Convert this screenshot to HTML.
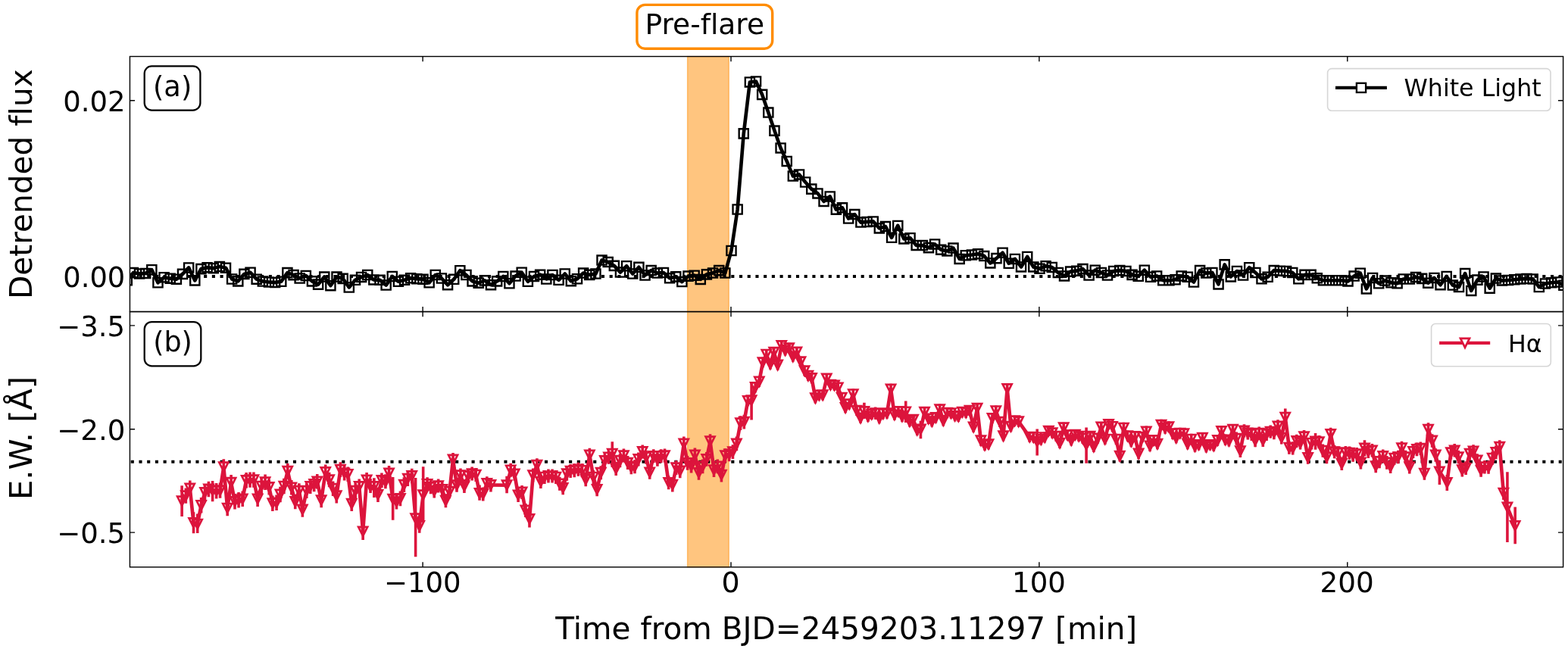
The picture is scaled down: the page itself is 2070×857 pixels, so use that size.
<!DOCTYPE html>
<html lang="en"><head><meta charset="utf-8"><title>Flare light curves: White Light and Hα</title>
<style>html,body{margin:0;padding:0;background:#fff}body{width:2070px;height:857px;overflow:hidden}svg{display:block}text{font-family:'DejaVu Sans','Liberation Sans',sans-serif;fill:#000;font-variant-ligatures:none;font-feature-settings:"liga" 0,"clig" 0;white-space:pre}</style>
</head><body>
<svg width="2070" height="857" viewBox="0 0 2070 857">
<rect width="2070" height="857" fill="#fff"/>
<defs><clipPath id="ca"><rect x="171.45" y="74.55" width="1892.15" height="337"/></clipPath>
<clipPath id="cb"><rect x="171.45" y="411.55" width="1892.15" height="337.3"/></clipPath></defs>
<rect x="907.6" y="74.55" width="54.6" height="674.3" fill="#FF8C00" fill-opacity="0.5" stroke="#FF8C00" stroke-opacity="0.5" stroke-width="1.4"/>
<line x1="171.45" y1="364.9" x2="2063.6" y2="364.9" stroke="#000" stroke-width="4" stroke-dasharray="4.1 6.61" stroke-dashoffset="9.42" clip-path="url(#ca)"/>
<line x1="171.45" y1="609.7" x2="2063.6" y2="609.7" stroke="#000" stroke-width="4" stroke-dasharray="4.1 6.61" stroke-dashoffset="9.42" clip-path="url(#cb)"/>
<g clip-path="url(#ca)">
<path d="M161.66 364.19h12.2v12.2h-12.2zM169.8 354.04h12.2v12.2h-12.2zM177.94 355.3h12.2v12.2h-12.2zM186.08 354.82h12.2v12.2h-12.2zM194.22 350.18h12.2v12.2h-12.2zM202.36 367.19h12.2v12.2h-12.2zM210.5 360.13h12.2v12.2h-12.2zM218.64 361.58h12.2v12.2h-12.2zM226.78 362.55h12.2v12.2h-12.2zM234.92 355.78h12.2v12.2h-12.2zM243.06 347.38h12.2v12.2h-12.2zM251.2 364.29h12.2v12.2h-12.2zM259.34 349.02h12.2v12.2h-12.2zM267.48 347.09h12.2v12.2h-12.2zM275.62 348.05h12.2v12.2h-12.2zM283.76 345.93h12.2v12.2h-12.2zM291.9 347.57h12.2v12.2h-12.2zM300.04 362.35h12.2v12.2h-12.2zM308.18 365.25h12.2v12.2h-12.2zM316.32 355.78h12.2v12.2h-12.2zM324.46 353.66h12.2v12.2h-12.2zM332.6 362.55h12.2v12.2h-12.2zM340.74 365.45h12.2v12.2h-12.2zM348.88 366.41h12.2v12.2h-12.2zM357.02 366.9h12.2v12.2h-12.2zM365.16 365.64h12.2v12.2h-12.2zM373.3 354.04h12.2v12.2h-12.2zM381.44 357.04h12.2v12.2h-12.2zM389.58 361.39h12.2v12.2h-12.2zM397.72 357.91h12.2v12.2h-12.2zM405.86 365.25h12.2v12.2h-12.2zM414 369.5h12.2v12.2h-12.2zM422.14 359.46h12.2v12.2h-12.2zM430.28 371.05h12.2v12.2h-12.2zM438.42 359.46h12.2v12.2h-12.2zM446.56 361.77h12.2v12.2h-12.2zM454.7 373.37h12.2v12.2h-12.2zM462.84 363.71h12.2v12.2h-12.2zM470.98 359.84h12.2v12.2h-12.2zM479.12 356.94h12.2v12.2h-12.2zM487.26 363.32h12.2v12.2h-12.2zM495.4 363.71h12.2v12.2h-12.2zM503.54 370.47h12.2v12.2h-12.2zM511.68 358.88h12.2v12.2h-12.2zM519.82 365.64h12.2v12.2h-12.2zM527.96 363.71h12.2v12.2h-12.2zM536.1 361.1h12.2v12.2h-12.2zM544.24 362.06h12.2v12.2h-12.2zM552.38 362.55h12.2v12.2h-12.2zM560.52 367.19h12.2v12.2h-12.2zM568.66 356.94h12.2v12.2h-12.2zM576.8 361.39h12.2v12.2h-12.2zM584.94 370.08h12.2v12.2h-12.2zM593.08 362.74h12.2v12.2h-12.2zM601.22 351.15h12.2v12.2h-12.2zM609.36 356.94h12.2v12.2h-12.2zM617.5 365.25h12.2v12.2h-12.2zM625.64 367.57h12.2v12.2h-12.2zM633.78 364.29h12.2v12.2h-12.2zM641.92 370.08h12.2v12.2h-12.2zM650.06 365.25h12.2v12.2h-12.2zM658.2 358.88h12.2v12.2h-12.2zM666.34 368.15h12.2v12.2h-12.2zM674.48 358.49h12.2v12.2h-12.2zM682.62 353.66h12.2v12.2h-12.2zM690.76 365.64h12.2v12.2h-12.2zM698.9 358.88h12.2v12.2h-12.2zM707.04 356.56h12.2v12.2h-12.2zM715.18 362.35h12.2v12.2h-12.2zM723.32 356.94h12.2v12.2h-12.2zM731.46 363.71h12.2v12.2h-12.2zM739.6 355.42h12.2v12.2h-12.2zM747.74 365.08h12.2v12.2h-12.2zM755.88 362.19h12.2v12.2h-12.2zM764.02 354.46h12.2v12.2h-12.2zM772.16 356.77h12.2v12.2h-12.2zM780.3 355.42h12.2v12.2h-12.2zM788.44 337.45h12.2v12.2h-12.2zM796.58 339.96h12.2v12.2h-12.2zM804.72 344.79h12.2v12.2h-12.2zM812.86 353.49h12.2v12.2h-12.2zM821 345.18h12.2v12.2h-12.2zM829.14 355.42h12.2v12.2h-12.2zM837.28 346.73h12.2v12.2h-12.2zM845.42 357.35h12.2v12.2h-12.2zM853.56 350.98h12.2v12.2h-12.2zM861.7 354.46h12.2v12.2h-12.2zM869.84 353.88h12.2v12.2h-12.2zM877.98 361.22h12.2v12.2h-12.2zM886.12 359.29h12.2v12.2h-12.2zM894.26 365.98h12.2v12.2h-12.2zM902.4 358.51h12.2v12.2h-12.2zM910.54 357.58h12.2v12.2h-12.2zM918.68 362.81h12.2v12.2h-12.2zM926.82 356.27h12.2v12.2h-12.2zM934.96 354.4h12.2v12.2h-12.2zM943.1 351.04h12.2v12.2h-12.2zM951.24 354.4h12.2v12.2h-12.2zM959.38 324.9h12.2v12.2h-12.2zM967.52 270.4h12.2v12.2h-12.2zM975.66 170.25h12.2v12.2h-12.2zM983.8 102.34h12.2v12.2h-12.2zM991.94 101.4h12.2v12.2h-12.2zM1000.08 118.79h12.2v12.2h-12.2zM1008.22 142.48h12.2v12.2h-12.2zM1016.36 166.51h12.2v12.2h-12.2zM1024.5 189.34h12.2v12.2h-12.2zM1032.64 206.84h12.2v12.2h-12.2zM1040.78 226.44h12.2v12.2h-12.2zM1048.92 224.34h12.2v12.2h-12.2zM1057.06 234.4h12.2v12.2h-12.2zM1065.2 243.5h12.2v12.2h-12.2zM1073.34 249.34h12.2v12.2h-12.2zM1081.48 259.84h12.2v12.2h-12.2zM1089.62 253.3h12.2v12.2h-12.2zM1097.76 270.57h12.2v12.2h-12.2zM1105.9 268.24h12.2v12.2h-12.2zM1114.04 282.48h12.2v12.2h-12.2zM1122.18 276.99h12.2v12.2h-12.2zM1130.32 287.49h12.2v12.2h-12.2zM1138.46 286.91h12.2v12.2h-12.2zM1146.6 286.33h12.2v12.2h-12.2zM1154.74 295.31h12.2v12.2h-12.2zM1162.88 292.98h12.2v12.2h-12.2zM1171.02 307.68h12.2v12.2h-12.2zM1179.16 291.81h12.2v12.2h-12.2zM1187.3 309.31h12.2v12.2h-12.2zM1195.44 308.15h12.2v12.2h-12.2zM1203.58 317.83h12.2v12.2h-12.2zM1211.72 317.97h12.2v12.2h-12.2zM1219.86 321.01h12.2v12.2h-12.2zM1228 316.34h12.2v12.2h-12.2zM1236.14 323.57h12.2v12.2h-12.2zM1244.28 325.32h12.2v12.2h-12.2zM1252.42 321.47h12.2v12.2h-12.2zM1260.56 335.83h12.2v12.2h-12.2zM1268.7 331.16h12.2v12.2h-12.2zM1276.84 330.34h12.2v12.2h-12.2zM1284.98 329.17h12.2v12.2h-12.2zM1293.12 331.97h12.2v12.2h-12.2zM1301.26 341.31h12.2v12.2h-12.2zM1309.4 335.01h12.2v12.2h-12.2zM1317.54 327.66h12.2v12.2h-12.2zM1325.68 341.66h12.2v12.2h-12.2zM1333.82 335.83h12.2v12.2h-12.2zM1341.96 346.33h12.2v12.2h-12.2zM1350.1 332.91h12.2v12.2h-12.2zM1358.24 346.33h12.2v12.2h-12.2zM1366.38 348.66h12.2v12.2h-12.2zM1374.52 345.16h12.2v12.2h-12.2zM1382.66 346.91h12.2v12.2h-12.2zM1390.8 353.91h12.2v12.2h-12.2zM1398.94 358.32h12.2v12.2h-12.2zM1407.08 352.52h12.2v12.2h-12.2zM1415.22 351.56h12.2v12.2h-12.2zM1423.36 349.04h12.2v12.2h-12.2zM1431.5 357.35h12.2v12.2h-12.2zM1439.64 350.59h12.2v12.2h-12.2zM1447.78 353.88h12.2v12.2h-12.2zM1455.92 357.35h12.2v12.2h-12.2zM1464.06 351.94h12.2v12.2h-12.2zM1472.2 350.98h12.2v12.2h-12.2zM1480.34 351.94h12.2v12.2h-12.2zM1488.48 356.77h12.2v12.2h-12.2zM1496.62 358.71h12.2v12.2h-12.2zM1504.76 350.59h12.2v12.2h-12.2zM1512.9 359.67h12.2v12.2h-12.2zM1521.04 358.32h12.2v12.2h-12.2zM1529.18 364.12h12.2v12.2h-12.2zM1537.32 364.12h12.2v12.2h-12.2zM1545.46 363.15h12.2v12.2h-12.2zM1553.6 358.32h12.2v12.2h-12.2zM1561.74 359.67h12.2v12.2h-12.2zM1569.88 366.44h12.2v12.2h-12.2zM1578.02 350.98h12.2v12.2h-12.2zM1586.16 354.46h12.2v12.2h-12.2zM1594.3 353.88h12.2v12.2h-12.2zM1602.44 369.33h12.2v12.2h-12.2zM1610.58 343.25h12.2v12.2h-12.2zM1618.72 359.29h12.2v12.2h-12.2zM1626.86 351.94h12.2v12.2h-12.2zM1635 357.35h12.2v12.2h-12.2zM1643.14 347.11h12.2v12.2h-12.2zM1651.28 353.88h12.2v12.2h-12.2zM1659.42 362.19h12.2v12.2h-12.2zM1667.56 359.67h12.2v12.2h-12.2zM1675.7 350.98h12.2v12.2h-12.2zM1683.84 351.56h12.2v12.2h-12.2zM1691.98 351.94h12.2v12.2h-12.2zM1700.12 353.88h12.2v12.2h-12.2zM1708.26 362.19h12.2v12.2h-12.2zM1716.4 356.77h12.2v12.2h-12.2zM1724.54 356.77h12.2v12.2h-12.2zM1732.68 361.22h12.2v12.2h-12.2zM1740.82 364.12h12.2v12.2h-12.2zM1748.96 364.12h12.2v12.2h-12.2zM1757.1 364.12h12.2v12.2h-12.2zM1765.24 364.12h12.2v12.2h-12.2zM1773.38 365.25h12.2v12.2h-12.2zM1781.52 358.49h12.2v12.2h-12.2zM1789.66 354.62h12.2v12.2h-12.2zM1797.8 375.3h12.2v12.2h-12.2zM1805.94 360.81h12.2v12.2h-12.2zM1814.08 368.15h12.2v12.2h-12.2zM1822.22 364.48h12.2v12.2h-12.2zM1830.36 367.19h12.2v12.2h-12.2zM1838.5 368.15h12.2v12.2h-12.2zM1846.64 362.35h12.2v12.2h-12.2zM1854.78 362.35h12.2v12.2h-12.2zM1862.92 359.84h12.2v12.2h-12.2zM1871.06 361.77h12.2v12.2h-12.2zM1879.2 367.57h12.2v12.2h-12.2zM1887.34 360.81h12.2v12.2h-12.2zM1895.48 370.08h12.2v12.2h-12.2zM1903.62 358.88h12.2v12.2h-12.2zM1911.76 370.47h12.2v12.2h-12.2zM1919.9 372.98h12.2v12.2h-12.2zM1928.04 354.95h12.2v12.2h-12.2zM1936.18 377.82h12.2v12.2h-12.2zM1944.32 363.52h12.2v12.2h-12.2zM1952.46 359.44h12.2v12.2h-12.2zM1960.6 374.55h12.2v12.2h-12.2zM1968.74 361.48h12.2v12.2h-12.2zM1976.88 364.34h12.2v12.2h-12.2zM1985.02 363.93h12.2v12.2h-12.2zM1993.16 363.12h12.2v12.2h-12.2zM2001.3 362.3h12.2v12.2h-12.2zM2009.44 361.89h12.2v12.2h-12.2zM2017.58 362.3h12.2v12.2h-12.2zM2025.72 372.92h12.2v12.2h-12.2zM2033.86 368.43h12.2v12.2h-12.2zM2042 367.2h12.2v12.2h-12.2zM2050.14 366.38h12.2v12.2h-12.2zM2058.28 370.63h12.2v12.2h-12.2z" fill="none" stroke="#000" stroke-width="2.35" stroke-linejoin="miter"/>
<polyline points="167.76,370.29 175.9,360.14 184.04,361.4 192.18,360.92 200.32,356.28 208.46,373.29 216.6,366.23 224.74,367.68 232.88,368.65 241.02,361.88 249.16,353.48 257.3,370.39 265.44,355.12 273.58,353.19 281.72,354.15 289.86,352.03 298,353.67 306.14,368.45 314.28,371.35 322.42,361.88 330.56,359.76 338.7,368.65 346.84,371.55 354.98,372.51 363.12,373 371.26,371.74 379.4,360.14 387.54,363.14 395.68,367.49 403.82,364.01 411.96,371.35 420.1,375.6 428.24,365.56 436.38,377.15 444.52,365.56 452.66,367.87 460.8,379.47 468.94,369.81 477.08,365.94 485.22,363.04 493.36,369.42 501.5,369.81 509.64,376.57 517.78,364.98 525.92,371.74 534.06,369.81 542.2,367.2 550.34,368.16 558.48,368.65 566.62,373.29 574.76,363.04 582.9,367.49 591.04,376.18 599.18,368.84 607.32,357.25 615.46,363.04 623.6,371.35 631.74,373.67 639.88,370.39 648.02,376.18 656.16,371.35 664.3,364.98 672.44,374.25 680.58,364.59 688.72,359.76 696.86,371.74 705,364.98 713.14,362.66 721.28,368.45 729.42,363.04 737.56,369.81 745.7,361.52 753.84,371.18 761.98,368.29 770.12,360.56 778.26,362.87 786.4,361.52 794.54,343.55 802.68,346.06 810.82,350.89 818.96,359.59 827.1,351.28 835.24,361.52 843.38,352.83 851.52,363.45 859.66,357.08 867.8,360.56 875.94,359.98 884.08,367.32 892.22,365.39 900.36,372.08 908.5,364.61 916.64,363.68 924.78,368.91 932.92,362.37 941.06,360.5 949.2,357.14 957.34,360.5 965.48,331 973.62,276.5 981.76,176.35 989.9,108.44 998.04,107.5 1006.18,124.89 1014.32,148.58 1022.46,172.61 1030.6,195.44 1038.74,212.94 1046.88,232.54 1055.02,230.44 1063.16,240.5 1071.3,249.6 1079.44,255.44 1087.58,265.94 1095.72,259.4 1103.86,276.67 1112,274.34 1120.14,288.58 1128.28,283.09 1136.42,293.59 1144.56,293.01 1152.7,292.43 1160.84,301.41 1168.98,299.08 1177.12,313.78 1185.26,297.91 1193.4,315.41 1201.54,314.25 1209.68,323.93 1217.82,324.07 1225.96,327.11 1234.1,322.44 1242.24,329.67 1250.38,331.42 1258.52,327.57 1266.66,341.93 1274.8,337.26 1282.94,336.44 1291.08,335.27 1299.22,338.07 1307.36,347.41 1315.5,341.11 1323.64,333.76 1331.78,347.76 1339.92,341.93 1348.06,352.43 1356.2,339.01 1364.34,352.43 1372.48,354.76 1380.62,351.26 1388.76,353.01 1396.9,360.01 1405.04,364.42 1413.18,358.62 1421.32,357.66 1429.46,355.14 1437.6,363.45 1445.74,356.69 1453.88,359.98 1462.02,363.45 1470.16,358.04 1478.3,357.08 1486.44,358.04 1494.58,362.87 1502.72,364.81 1510.86,356.69 1519,365.77 1527.14,364.42 1535.28,370.22 1543.42,370.22 1551.56,369.25 1559.7,364.42 1567.84,365.77 1575.98,372.54 1584.12,357.08 1592.26,360.56 1600.4,359.98 1608.54,375.43 1616.68,349.35 1624.82,365.39 1632.96,358.04 1641.1,363.45 1649.24,353.21 1657.38,359.98 1665.52,368.29 1673.66,365.77 1681.8,357.08 1689.94,357.66 1698.08,358.04 1706.22,359.98 1714.36,368.29 1722.5,362.87 1730.64,362.87 1738.78,367.32 1746.92,370.22 1755.06,370.22 1763.2,370.22 1771.34,370.22 1779.48,371.35 1787.62,364.59 1795.76,360.72 1803.9,381.4 1812.04,366.91 1820.18,374.25 1828.32,370.58 1836.46,373.29 1844.6,374.25 1852.74,368.45 1860.88,368.45 1869.02,365.94 1877.16,367.87 1885.3,373.67 1893.44,366.91 1901.58,376.18 1909.72,364.98 1917.86,376.57 1926,379.08 1934.14,361.05 1942.28,383.92 1950.42,369.62 1958.56,365.54 1966.7,380.65 1974.84,367.58 1982.98,370.44 1991.12,370.03 1999.26,369.22 2007.4,368.4 2015.54,367.99 2023.68,368.4 2031.82,379.02 2039.96,374.53 2048.1,373.3 2056.24,372.48 2064.38,376.73" fill="none" stroke="#000" stroke-width="4.65" stroke-linejoin="round" stroke-linecap="butt"/>
</g>
<g clip-path="url(#cb)">
<path d="M234.13 655.62h12l-6 12zM239.31 648.62h12l-6 12zM244.77 638.82h12l-6 12zM249.53 684.34h12l-6 12zM254.71 686.02h12l-6 12zM259.62 661.23h12l-6 12zM264.52 644.42h12l-6 12zM269.42 639.94h12l-6 12zM274.6 641.62h12l-6 12zM279.64 642.32h12l-6 12zM284.55 641.62h12l-6 12zM289.31 610.53h12l-6 12zM294.21 665.01h12l-6 12zM299.11 631.11h12l-6 12zM304.01 656.32h12l-6 12zM309.06 654.22h12l-6 12zM314.24 652.82h12l-6 12zM319.14 628.31h12l-6 12zM324.04 627.61h12l-6 12zM328.94 627.61h12l-6 12zM334.13 652.82h12l-6 12zM339.17 636.02h12l-6 12zM344.07 630.69h12l-6 12zM349.25 637.42h12l-6 12zM353.87 658.71h12l-6 12zM359.06 657.73h12l-6 12zM363.96 646.94h12l-6 12zM368.86 636.02h12l-6 12zM373.76 616.13h12l-6 12zM378.77 637.76h12l-6 12zM383.73 656.43h12l-6 12zM388.84 642.13h12l-6 12zM393.36 666.93h12l-6 12zM398.75 642.13h12l-6 12zM403.71 636.3h12l-6 12zM408.67 633.38h12l-6 12zM412.76 629.74h12l-6 12zM418.15 654.53h12l-6 12zM423.7 617.34h12l-6 12zM428.66 627.55h12l-6 12zM433.61 639.22h12l-6 12zM438.28 648.7h12l-6 12zM443.39 614.13h12l-6 12zM448.64 618.8h12l-6 12zM453.31 620.25h12l-6 12zM458.26 659.2h12l-6 12zM463.22 642.13h12l-6 12zM468.18 636.3h12l-6 12zM473.14 695.81h12l-6 12zM478.1 627.84h12l-6 12zM483.06 636.3h12l-6 12zM487.87 636.3h12l-6 12zM492.98 647.24h12l-6 12zM497.94 628.28h12l-6 12zM502.9 630.46h12l-6 12zM507.56 618.8h12l-6 12zM512.67 653.07h12l-6 12zM517.48 656.72h12l-6 12zM522.44 652.34h12l-6 12zM527.4 634.11h12l-6 12zM532.36 626.09h12l-6 12zM537.76 622.44h12l-6 12zM542.61 678.62h12l-6 12zM547.71 688.39h12l-6 12zM552.67 647.55h12l-6 12zM558.07 633.26h12l-6 12zM562.59 637.34h12l-6 12zM567.26 642.45h12l-6 12zM572.65 635.59h12l-6 12zM577.76 640.26h12l-6 12zM582.42 655.14h12l-6 12zM587.38 643.18h12l-6 12zM592.05 600.88h12l-6 12zM597.01 634.72h12l-6 12zM601.97 621.59h12l-6 12zM606.93 635.88h12l-6 12zM612.03 622.76h12l-6 12zM617.14 619.55h12l-6 12zM622.24 621.01h12l-6 12zM627.06 645.37h12l-6 12zM631.72 646.39h12l-6 12zM636.83 632.24h12l-6 12zM641.93 634.43h12l-6 12zM663.08 634.72h12l-6 12zM668.19 614.74h12l-6 12zM673.29 619.84h12l-6 12zM678.11 647.84h12l-6 12zM683.07 643.91h12l-6 12zM687.88 667.97h12l-6 12zM692.98 679.35h12l-6 12zM697.65 621.59h12l-6 12zM702.9 608.17h12l-6 12zM707.86 630.05h12l-6 12zM712.86 624.01h12l-6 12zM717.96 622.55h12l-6 12zM723.07 622.55h12l-6 12zM727.88 624.01h12l-6 12zM732.84 632.76h12l-6 12zM737.21 638.31h12l-6 12zM742.32 619.64h12l-6 12zM747.13 615.99h12l-6 12zM752.24 615.26h12l-6 12zM757.34 613.8h12l-6 12zM762.45 615.26h12l-6 12zM767.26 627.22h12l-6 12zM772.37 594.84h12l-6 12zM777.33 624.01h12l-6 12zM782.14 640.35h12l-6 12zM787.24 618.18h12l-6 12zM792.35 602.42h12l-6 12zM797.45 597.76h12l-6 12zM802.27 593.09h12l-6 12zM807.23 613.07h12l-6 12zM812.48 602.13h12l-6 12zM817.44 595.57h12l-6 12zM822.69 605.05h12l-6 12zM827.35 611.18h12l-6 12zM832.02 610.16h12l-6 12zM836.84 600.38h12l-6 12zM842.23 590.46h12l-6 12zM847.05 597.76h12l-6 12zM851.71 617.74h12l-6 12zM856.82 596.3h12l-6 12zM861.92 600.67h12l-6 12zM866.74 596.3h12l-6 12zM871.55 595.57h12l-6 12zM876.65 631.3h12l-6 12zM881.79 634.2h12l-6 12zM886.61 611.6h12l-6 12zM891.71 615.97h12l-6 12zM896.82 579.95h12l-6 12zM901.63 605.47h12l-6 12zM906.59 609.12h12l-6 12zM911.4 594.97h12l-6 12zM916.51 618.31h12l-6 12zM921.61 609.85h12l-6 12zM926.72 600.37h12l-6 12zM931.53 576.59h12l-6 12zM936.49 614.51h12l-6 12zM941.3 609.85h12l-6 12zM946.41 621.08h12l-6 12zM951.51 595.55h12l-6 12zM956.62 593.8h12l-6 12zM961.43 590.59h12l-6 12zM966.39 579.95h12l-6 12zM971.5 552.67h12l-6 12zM976.31 551.21h12l-6 12zM981.28 523.26h12l-6 12zM986.09 522.68h12l-6 12zM991.19 505.47h12l-6 12zM996.3 497.74h12l-6 12zM1000.97 472.65h12l-6 12zM1005.78 462h12l-6 12zM1010.88 474.84h12l-6 12zM1015.7 459.09h12l-6 12zM1020.66 475.86h12l-6 12zM1025.76 450.34h12l-6 12zM1030.58 456.61h12l-6 12zM1035.68 453.69h12l-6 12zM1040.79 464.92h12l-6 12zM1045.89 458.8h12l-6 12zM1051 471.63h12l-6 12zM1056.1 483.59h12l-6 12zM1060.91 490.16h12l-6 12zM1065.58 493.36h12l-6 12zM1070.39 519.62h12l-6 12zM1075.35 515.97h12l-6 12zM1080.17 515.68h12l-6 12zM1085.27 493.8h12l-6 12zM1090.38 502.12h12l-6 12zM1095.48 502.84h12l-6 12zM1100.3 505.76h12l-6 12zM1105.25 519.04h12l-6 12zM1110.07 532.45h12l-6 12zM1115.17 527.64h12l-6 12zM1120.28 514.51h12l-6 12zM1124.95 536.1h12l-6 12zM1130.05 545.87h12l-6 12zM1134.9 537.45h12l-6 12zM1139.86 544.01h12l-6 12zM1144.82 541.09h12l-6 12zM1149.63 539.64h12l-6 12zM1154.74 546.2h12l-6 12zM1159.84 540.37h12l-6 12zM1164.95 539.64h12l-6 12zM1170.05 507.84h12l-6 12zM1174.86 541.82h12l-6 12zM1179.97 537.45h12l-6 12zM1184.93 544.01h12l-6 12zM1189.74 537.74h12l-6 12zM1194.85 550.58h12l-6 12zM1199.66 548.1h12l-6 12zM1204.76 561.95h12l-6 12zM1209.43 560.79h12l-6 12zM1214.54 538.18h12l-6 12zM1219.64 546.93h12l-6 12zM1224.31 550.58h12l-6 12zM1229.41 545.47h12l-6 12zM1234.67 534.53h12l-6 12zM1239.33 549.41h12l-6 12zM1244.44 539.2h12l-6 12zM1249.54 539.64h12l-6 12zM1254.65 543.28h12l-6 12zM1259.32 544.01h12l-6 12zM1264.42 538.18h12l-6 12zM1269.23 538.91h12l-6 12zM1274.05 535.99h12l-6 12zM1279.15 557.87h12l-6 12zM1284.11 533.07h12l-6 12zM1288.92 575.66h12l-6 12zM1294.03 581.93h12l-6 12zM1299.02 580.56h12l-6 12zM1303.98 546.28h12l-6 12zM1308.8 536.51h12l-6 12zM1313.9 551.09h12l-6 12zM1318.57 569.62h12l-6 12zM1323.67 507.34h12l-6 12zM1328.49 557.22h12l-6 12zM1333.59 549.64h12l-6 12zM1338.7 550.66h12l-6 12zM1353.28 571.08h12l-6 12zM1358.39 571.51h12l-6 12zM1363.2 577.35h12l-6 12zM1368.31 574.43h12l-6 12zM1373.26 571.51h12l-6 12zM1378.37 563.05h12l-6 12zM1383.18 565.68h12l-6 12zM1388.29 570.06h12l-6 12zM1393.1 579.1h12l-6 12zM1398.21 558.68h12l-6 12zM1403.31 568.6h12l-6 12zM1408.27 575.45h12l-6 12zM1413.38 568.16h12l-6 12zM1418.19 570.06h12l-6 12zM1423.29 572.97h12l-6 12zM1428.11 581.43h12l-6 12zM1433.07 570.06h12l-6 12zM1437.88 583.91h12l-6 12zM1442.98 572.97h12l-6 12zM1447.8 557.95h12l-6 12zM1452.76 573.99h12l-6 12zM1457.57 554.3h12l-6 12zM1462.56 557.24h12l-6 12zM1467.52 574.01h12l-6 12zM1472.34 596.18h12l-6 12zM1477.44 558.99h12l-6 12zM1482.55 569.64h12l-6 12zM1487.36 576.93h12l-6 12zM1492.32 570.37h12l-6 12zM1497.13 592.97h12l-6 12zM1502.24 571.09h12l-6 12zM1507.34 563.8h12l-6 12zM1512.16 582.76h12l-6 12zM1517.12 575.47h12l-6 12zM1521.93 580.14h12l-6 12zM1527.03 555.05h12l-6 12zM1532.14 559.43h12l-6 12zM1536.95 557.53h12l-6 12zM1542.06 566.72h12l-6 12zM1546.72 572.12h12l-6 12zM1551.83 565.99h12l-6 12zM1556.93 566.72h12l-6 12zM1561.75 580.14h12l-6 12zM1566.71 574.01h12l-6 12zM1571.52 583.49h12l-6 12zM1576.63 581.3h12l-6 12zM1581.44 572.12h12l-6 12zM1586.4 584.22h12l-6 12zM1591.5 581.3h12l-6 12zM1596.32 582.76h12l-6 12zM1601.42 575.47h12l-6 12zM1606.53 563.36h12l-6 12zM1611.63 574.74h12l-6 12zM1616.44 576.2h12l-6 12zM1621.55 561.18h12l-6 12zM1626.29 573.18h12l-6 12zM1631.4 589.51h12l-6 12zM1636.5 562.97h12l-6 12zM1641.32 565.88h12l-6 12zM1646.28 567.34h12l-6 12zM1651.09 575.66h12l-6 12zM1656.19 566.18h12l-6 12zM1661.3 575.37h12l-6 12zM1666.11 567.34h12l-6 12zM1671.22 563.99h12l-6 12zM1675.88 565.59h12l-6 12zM1680.99 556.84h12l-6 12zM1685.8 572.01h12l-6 12zM1690.76 545.03h12l-6 12zM1695.87 585.14h12l-6 12zM1700.68 585.87h12l-6 12zM1705.79 576.39h12l-6 12zM1710.6 579.01h12l-6 12zM1715.56 570.55h12l-6 12zM1720.66 598.26h12l-6 12zM1725.48 579.01h12l-6 12zM1730.58 576.82h12l-6 12zM1735.39 577.55h12l-6 12zM1740.35 589.22h12l-6 12zM1745.46 597.54h12l-6 12zM1750.71 567.34h12l-6 12zM1755.67 590.68h12l-6 12zM1760.48 592.14h12l-6 12zM1765.3 606.29h12l-6 12zM1770.4 591.7h12l-6 12zM1775.36 592.14h12l-6 12zM1780.17 595.06h12l-6 12zM1785.28 593.6h12l-6 12zM1790.38 604.83h12l-6 12zM1795.49 585.87h12l-6 12zM1800.34 590.26h12l-6 12zM1805.44 588.8h12l-6 12zM1810.25 609.51h12l-6 12zM1815.07 603.39h12l-6 12zM1819.74 596.39h12l-6 12zM1824.84 604.85h12l-6 12zM1829.65 610.24h12l-6 12zM1834.76 599.01h12l-6 12zM1839.72 597.55h12l-6 12zM1844.53 585.59h12l-6 12zM1849.64 597.55h12l-6 12zM1854.74 610.68h12l-6 12zM1859.55 590.26h12l-6 12zM1864.51 587.34h12l-6 12zM1869.33 586.18h12l-6 12zM1874.43 618.99h12l-6 12zM1879.54 561.09h12l-6 12zM1884.64 575.97h12l-6 12zM1889.31 594.93h12l-6 12zM1894.41 616.81h12l-6 12zM1904.33 631.39h12l-6 12zM1909.44 591.72h12l-6 12zM1914.25 588.8h12l-6 12zM1919.36 597.55h12l-6 12zM1924.32 614.62h12l-6 12zM1929.13 612.14h12l-6 12zM1934.23 593.18h12l-6 12zM1939.05 589.97h12l-6 12zM1944.15 601.93h12l-6 12zM1949.11 615.06h12l-6 12zM1953.92 610.68h12l-6 12zM1959.04 610.96h12l-6 12zM1964.18 599h12l-6 12zM1968.85 591.35h12l-6 12zM1973.79 584.07h12l-6 12zM1978.89 645.16h12l-6 12zM1983.93 663.81h12l-6 12zM1994.19 688.44h12l-6 12z" fill="none" stroke="#DC143C" stroke-width="2.7" stroke-linejoin="miter"/>
<path d="M240.13 641.31V681.93M245.31 644.42V664.82M250.77 634.62V655.02M255.53 676.33V704.35M260.71 678.43V703.92M265.62 657.03V677.43M270.52 640.22V660.62M275.42 635.74V656.14M280.6 635.01V662.33M285.64 638.12V658.52M290.55 637.42V657.82M295.31 606.33V626.73M300.21 660.81V681.21M305.11 626.91V647.31M310.01 652.12V672.52M315.06 650.02V670.42M320.24 648.62V669.02M325.14 624.11V644.51M330.04 623.41V643.81M334.94 623.41V643.81M340.13 648.62V669.02M345.17 631.82V652.22M350.07 626.49V646.89M355.25 633.22V653.62M359.87 654.51V674.91M365.06 653.53V673.93M369.96 642.74V663.14M374.86 631.82V652.22M379.76 611.93V632.33M384.77 633.96V653.56M389.73 652.63V672.23M394.84 638.33V657.93M399.36 663.13V682.73M404.75 638.33V657.93M409.71 632.5V652.1M414.67 629.58V649.18M418.76 625.94V645.54M424.15 650.73V670.33M429.7 613.54V633.14M434.66 623.75V643.35M439.61 635.42V655.02M444.28 644.9V664.5M449.39 610.33V629.93M454.64 615V634.6M459.31 616.45V636.05M464.26 655.43V675.12M469.22 638.33V657.93M474.18 632.5V652.1M479.14 690.43V713.04M484.1 624.04V643.64M489.06 632.09V651.05M493.87 631.36V656.89M498.98 643.44V663.04M503.94 624.48V644.08M508.9 626.25V645.21M513.56 615V634.6M518.67 629.9V686.78M523.48 652.92V672.52M528.44 648.54V668.14M533.4 630.31V649.91M538.36 622.29V641.89M543.76 618.64V638.24M548.61 630.94V735.23M553.71 682.72V703.87M558.67 616.36V687.1M564.07 630.26V648.26M568.59 634.34V652.34M573.26 639.45V657.45M578.65 632.59V650.59M583.76 637.26V655.26M588.42 652.14V670.14M593.38 640.18V658.18M598.05 597.88V615.88M603.01 631.72V649.72M607.97 618.59V636.59M612.93 632.88V650.88M618.03 619.76V637.76M623.14 616.55V634.55M628.24 618.01V636.01M633.06 640.43V660.85M637.72 643.39V661.39M642.83 629.24V647.24M647.93 631.43V649.43M669.08 628.76V651.37M674.19 611.74V629.74M679.29 616.84V634.84M684.11 643.34V663.03M689.07 640.91V658.91M693.88 664.97V682.97M698.98 673.97V696.58M703.65 618.59V636.59M708.9 605.17V623.17M713.86 627.05V645.05M718.86 621.01V639.01M723.96 619.55V637.55M729.07 619.55V637.55M733.88 621.01V639.01M738.84 629.76V647.76M743.21 635.31V653.31M748.32 616.64V634.64M753.13 612.99V630.99M758.24 612.26V630.26M763.34 610.8V628.8M768.45 612.26V630.26M773.26 624.22V642.22M778.37 591.84V609.84M783.33 621.01V639.01M788.14 637.35V655.35M793.24 615.18V633.18M798.35 599.42V617.42M803.45 594.76V612.76M808.27 583.34V616.88M813.23 610.07V628.07M818.48 599.13V617.13M823.44 592.57V610.57M828.69 602.05V620.05M833.35 608.18V626.18M838.02 607.16V625.16M842.84 597.38V615.38M848.23 587.46V605.46M853.05 594.76V612.76M857.71 614.74V632.74M862.82 593.3V611.3M867.92 597.67V615.67M872.74 593.3V611.3M877.55 592.57V610.57M882.65 628.3V646.3M887.79 630.8V649.6M892.61 608.2V627M897.71 612.57V631.37M902.82 576.55V595.35M907.63 602.07V620.87M912.59 605.72V624.52M917.4 591.57V610.37M922.51 614.91V633.71M927.61 606.45V625.25M932.72 596.97V615.77M937.53 573.19V591.99M942.49 611.11V629.91M947.3 606.45V625.25M952.41 617.68V636.48M957.51 592.15V610.95M962.62 590.4V609.2M967.43 587.19V605.99M972.39 576.55V595.35M977.5 549.27V568.07M982.31 547.81V566.61M987.28 522.36V536.16M992.09 504.18V554.5M997.19 504.57V518.37M1002.3 496.84V510.64M1006.97 471.75V485.55M1011.78 461.1V474.9M1016.88 473.94V487.74M1021.7 458.19V471.99M1026.66 474.96V488.76M1031.76 449.44V463.24M1036.58 455.71V469.51M1041.68 452.79V466.59M1046.79 464.02V477.82M1051.89 457.9V471.7M1057 470.73V484.53M1062.1 482.69V496.49M1066.91 489.26V503.06M1071.58 492.46V506.26M1076.39 518.72V532.52M1081.35 515.07V528.87M1086.17 514.78V528.58M1091.27 492.9V506.7M1096.38 501.22V515.02M1101.48 501.94V515.74M1106.3 504.86V518.66M1111.25 518.14V531.94M1116.07 531.55V545.35M1121.17 526.74V540.54M1126.28 513.61V527.41M1130.95 535.2V549M1136.05 544.97V558.77M1140.9 531.78V552.93M1145.86 543.01V557.01M1150.82 540.09V554.09M1155.63 537.62V553.66M1160.74 545.2V559.2M1165.84 539.37V553.37M1170.95 538.64V552.64M1176.05 506.84V520.84M1180.86 540.82V554.82M1185.97 536.45V550.45M1190.93 543.01V557.01M1195.74 529.59V558.03M1200.85 549.58V563.58M1205.66 547.1V561.1M1210.76 560.95V574.95M1215.43 555.85V579.19M1220.54 537.18V551.18M1225.64 545.93V559.93M1230.31 549.58V563.58M1235.41 544.47V558.47M1240.67 533.53V547.53M1245.33 548.41V562.41M1250.44 538.2V552.2M1255.54 538.64V552.64M1260.65 542.28V556.28M1265.32 543.01V557.01M1270.42 537.18V551.18M1275.23 537.91V551.91M1280.05 534.99V548.99M1285.15 556.87V570.87M1290.11 532.07V546.07M1294.92 574.66V588.66M1300.03 580.93V594.93M1305.02 579.56V593.56M1309.98 545.28V559.28M1314.8 535.51V549.51M1319.9 550.09V564.09M1324.57 568.62V582.62M1329.67 506.34V520.34M1334.49 556.22V570.22M1339.59 548.64V562.64M1344.7 549.66V563.66M1359.28 570.08V584.08M1364.39 570.51V584.51M1369.2 566.58V601.58M1374.31 573.43V587.43M1379.26 570.51V584.51M1384.37 562.05V576.05M1389.18 564.68V578.68M1394.29 569.06V583.06M1399.1 578.1V592.1M1404.21 557.68V571.68M1409.31 567.6V581.6M1414.27 574.45V588.45M1419.38 567.16V581.16M1424.19 569.06V583.06M1429.29 571.97V585.97M1434.11 564.38V611.79M1439.07 569.06V583.06M1443.88 582.91V596.91M1448.98 571.97V585.97M1453.8 556.95V570.95M1458.76 572.99V586.99M1463.57 553.3V567.3M1468.56 556.04V570.44M1473.52 572.81V587.21M1478.34 594.98V609.38M1483.44 557.79V572.19M1488.55 568.44V582.84M1493.36 575.73V590.13M1498.32 569.17V583.57M1503.13 591.77V606.17M1508.24 569.89V584.29M1513.34 562.6V577M1518.16 581.56V595.96M1523.12 574.27V588.67M1527.93 578.94V593.34M1533.03 553.85V568.25M1538.14 558.23V572.63M1542.95 556.33V570.73M1548.06 565.52V579.92M1552.72 570.92V585.32M1557.83 564.79V579.19M1562.93 565.52V579.92M1567.75 578.94V593.34M1572.71 572.81V587.21M1577.52 582.29V596.69M1582.63 580.1V594.5M1587.44 570.92V585.32M1592.4 583.02V597.42M1597.5 580.1V594.5M1602.32 581.56V595.96M1607.42 574.27V588.67M1612.53 562.16V576.56M1617.63 573.54V587.94M1622.44 575V589.4M1627.55 559.98V574.38M1632.29 570.58V587.78M1637.4 586.91V604.11M1642.5 560.37V577.57M1647.32 563.28V580.48M1652.28 564.74V581.94M1657.09 573.06V590.26M1662.19 563.58V580.78M1667.3 572.77V589.97M1672.11 564.74V581.94M1677.22 561.39V578.59M1681.88 562.99V580.19M1686.99 554.24V571.44M1691.8 569.41V586.61M1696.76 539.51V563.14M1701.87 582.54V599.74M1706.68 583.27V600.47M1711.79 573.79V590.99M1716.6 576.41V593.61M1721.56 567.95V585.15M1726.66 595.66V612.86M1731.48 576.41V593.61M1736.58 571.88V593.76M1741.39 574.95V592.15M1746.35 586.62V603.82M1751.46 594.94V612.14M1756.71 564.74V581.94M1761.67 588.08V605.28M1766.48 589.54V606.74M1771.3 603.69V620.89M1776.4 589.1V606.3M1781.36 589.54V606.74M1786.17 592.46V609.66M1791.28 591V608.2M1796.38 602.23V619.43M1801.49 581.37V602.52M1806.34 587.46V605.06M1811.44 586V603.6M1816.25 606.71V624.31M1821.07 600.59V618.19M1825.74 593.59V611.19M1830.84 602.05V619.65M1835.65 607.44V625.04M1840.76 596.21V613.81M1845.72 594.75V612.35M1850.53 582.79V600.39M1855.64 594.75V612.35M1860.74 607.88V625.48M1865.55 587.46V605.06M1870.51 584.54V602.14M1875.33 583.38V600.98M1880.43 616.19V633.79M1885.54 558.29V575.89M1890.64 573.17V590.77M1895.31 592.13V609.73M1900.41 607.93V640.02M1910.33 626.89V648.04M1915.44 588.92V606.52M1920.25 586V603.6M1925.36 594.75V612.35M1930.32 611.82V629.42M1935.13 609.34V626.94M1940.23 590.38V607.98M1945.05 587.17V604.77M1950.15 599.13V616.73M1955.11 612.26V629.86M1959.92 607.88V625.48M1965.04 608.16V625.76M1970.18 596.2V613.8M1974.85 588.55V606.15M1979.79 581.27V598.87M1984.89 642.36V659.96M1989.93 623.17V716.08M2000.19 669.44V718.32" fill="none" stroke="#DC143C" stroke-width="3.6"/>
<polyline points="240.13,661.62 245.31,654.62 250.77,644.82 255.53,690.34 260.71,692.02 265.62,667.23 270.52,650.42 275.42,645.94 280.6,647.62 285.64,648.32 290.55,647.62 295.31,616.53 300.21,671.01 305.11,637.11 310.01,662.32 315.06,660.22 320.24,658.82 325.14,634.31 330.04,633.61 334.94,633.61 340.13,658.82 345.17,642.02 350.07,636.69 355.25,643.42 359.87,664.71 365.06,663.73 369.96,652.94 374.86,642.02 379.76,622.13 384.77,643.76 389.73,662.43 394.84,648.13 399.36,672.93 404.75,648.13 409.71,642.3 414.67,639.38 418.76,635.74 424.15,660.53 429.7,623.34 434.66,633.55 439.61,645.22 444.28,654.7 449.39,620.13 454.64,624.8 459.31,626.25 464.26,665.2 469.22,648.13 474.18,642.3 479.14,701.81 484.1,633.84 489.06,642.3 493.87,642.3 498.98,653.24 503.94,634.28 508.9,636.46 513.56,624.8 518.67,659.07 523.48,662.72 528.44,658.34 533.4,640.11 538.36,632.09 543.76,628.44 548.61,684.62 553.71,694.39 558.67,653.55 564.07,639.26 568.59,643.34 573.26,648.45 578.65,641.59 583.76,646.26 588.42,661.14 593.38,649.18 598.05,606.88 603.01,640.72 607.97,627.59 612.93,641.88 618.03,628.76 623.14,625.55 628.24,627.01 633.06,651.37 637.72,652.39 642.83,638.24 647.93,640.43 669.08,640.72 674.19,620.74 679.29,625.84 684.11,653.84 689.07,649.91 693.88,673.97 698.98,685.35 703.65,627.59 708.9,614.17 713.86,636.05 718.86,630.01 723.96,628.55 729.07,628.55 733.88,630.01 738.84,638.76 743.21,644.31 748.32,625.64 753.13,621.99 758.24,621.26 763.34,619.8 768.45,621.26 773.26,633.22 778.37,600.84 783.33,630.01 788.14,646.35 793.24,624.18 798.35,608.42 803.45,603.76 808.27,599.09 813.23,619.07 818.48,608.13 823.44,601.57 828.69,611.05 833.35,617.18 838.02,616.16 842.84,606.38 848.23,596.46 853.05,603.76 857.71,623.74 862.82,602.3 867.92,606.67 872.74,602.3 877.55,601.57 882.65,637.3 887.79,640.2 892.61,617.6 897.71,621.97 902.82,585.95 907.63,611.47 912.59,615.12 917.4,600.97 922.51,624.31 927.61,615.85 932.72,606.37 937.53,582.59 942.49,620.51 947.3,615.85 952.41,627.08 957.51,601.55 962.62,599.8 967.43,596.59 972.39,585.95 977.5,558.67 982.31,557.21 987.28,529.26 992.09,528.68 997.19,511.47 1002.3,503.74 1006.97,478.65 1011.78,468 1016.88,480.84 1021.7,465.09 1026.66,481.86 1031.76,456.34 1036.58,462.61 1041.68,459.69 1046.79,470.92 1051.89,464.8 1057,477.63 1062.1,489.59 1066.91,496.16 1071.58,499.36 1076.39,525.62 1081.35,521.97 1086.17,521.68 1091.27,499.8 1096.38,508.12 1101.48,508.84 1106.3,511.76 1111.25,525.04 1116.07,538.45 1121.17,533.64 1126.28,520.51 1130.95,542.1 1136.05,551.87 1140.9,543.45 1145.86,550.01 1150.82,547.09 1155.63,545.64 1160.74,552.2 1165.84,546.37 1170.95,545.64 1176.05,513.84 1180.86,547.82 1185.97,543.45 1190.93,550.01 1195.74,543.74 1200.85,556.58 1205.66,554.1 1210.76,567.95 1215.43,566.79 1220.54,544.18 1225.64,552.93 1230.31,556.58 1235.41,551.47 1240.67,540.53 1245.33,555.41 1250.44,545.2 1255.54,545.64 1260.65,549.28 1265.32,550.01 1270.42,544.18 1275.23,544.91 1280.05,541.99 1285.15,563.87 1290.11,539.07 1294.92,581.66 1300.03,587.93 1305.02,586.56 1309.98,552.28 1314.8,542.51 1319.9,557.09 1324.57,575.62 1329.67,513.34 1334.49,563.22 1339.59,555.64 1344.7,556.66 1359.28,577.08 1364.39,577.51 1369.2,583.35 1374.31,580.43 1379.26,577.51 1384.37,569.05 1389.18,571.68 1394.29,576.06 1399.1,585.1 1404.21,564.68 1409.31,574.6 1414.27,581.45 1419.38,574.16 1424.19,576.06 1429.29,578.97 1434.11,587.43 1439.07,576.06 1443.88,589.91 1448.98,578.97 1453.8,563.95 1458.76,579.99 1463.57,560.3 1468.56,563.24 1473.52,580.01 1478.34,602.18 1483.44,564.99 1488.55,575.64 1493.36,582.93 1498.32,576.37 1503.13,598.97 1508.24,577.09 1513.34,569.8 1518.16,588.76 1523.12,581.47 1527.93,586.14 1533.03,561.05 1538.14,565.43 1542.95,563.53 1548.06,572.72 1552.72,578.12 1557.83,571.99 1562.93,572.72 1567.75,586.14 1572.71,580.01 1577.52,589.49 1582.63,587.3 1587.44,578.12 1592.4,590.22 1597.5,587.3 1602.32,588.76 1607.42,581.47 1612.53,569.36 1617.63,580.74 1622.44,582.2 1627.55,567.18 1632.29,579.18 1637.4,595.51 1642.5,568.97 1647.32,571.88 1652.28,573.34 1657.09,581.66 1662.19,572.18 1667.3,581.37 1672.11,573.34 1677.22,569.99 1681.88,571.59 1686.99,562.84 1691.8,578.01 1696.76,551.03 1701.87,591.14 1706.68,591.87 1711.79,582.39 1716.6,585.01 1721.56,576.55 1726.66,604.26 1731.48,585.01 1736.58,582.82 1741.39,583.55 1746.35,595.22 1751.46,603.54 1756.71,573.34 1761.67,596.68 1766.48,598.14 1771.3,612.29 1776.4,597.7 1781.36,598.14 1786.17,601.06 1791.28,599.6 1796.38,610.83 1801.49,591.87 1806.34,596.26 1811.44,594.8 1816.25,615.51 1821.07,609.39 1825.74,602.39 1830.84,610.85 1835.65,616.24 1840.76,605.01 1845.72,603.55 1850.53,591.59 1855.64,603.55 1860.74,616.68 1865.55,596.26 1870.51,593.34 1875.33,592.18 1880.43,624.99 1885.54,567.09 1890.64,581.97 1895.31,600.93 1900.41,622.81 1910.33,637.39 1915.44,597.72 1920.25,594.8 1925.36,603.55 1930.32,620.62 1935.13,618.14 1940.23,599.18 1945.05,595.97 1950.15,607.93 1955.11,621.06 1959.92,616.68 1965.04,616.96 1970.18,605 1974.85,597.35 1979.79,590.07 1984.89,651.16 1989.93,669.81 2000.19,694.44" fill="none" stroke="#DC143C" stroke-width="4.65" stroke-linejoin="round"/>
</g>
<path d="M558.1 74.55v6.6M558.1 411.55v-6.6M558.1 411.55v6.6M558.1 748.85v-6.6M965 74.55v6.6M965 411.55v-6.6M965 411.55v6.6M965 748.85v-6.6M1371.9 74.55v6.6M1371.9 411.55v-6.6M1371.9 411.55v6.6M1371.9 748.85v-6.6M1778.8 74.55v6.6M1778.8 411.55v-6.6M1778.8 411.55v6.6M1778.8 748.85v-6.6M171.45 132.8h6.6M2063.6 132.8h-6.6M171.45 364.9h6.6M2063.6 364.9h-6.6M171.45 429.9h6.6M2063.6 429.9h-6.6M171.45 566.8h6.6M2063.6 566.8h-6.6M171.45 703.1h6.6M2063.6 703.1h-6.6" fill="none" stroke="#000" stroke-width="1.4"/>
<rect x="171.45" y="74.55" width="1892.15" height="337" fill="none" stroke="#000" stroke-width="1.4"/>
<rect x="171.45" y="411.55" width="1892.15" height="337.3" fill="none" stroke="#000" stroke-width="1.4"/>
<text x="507" y="782.4" font-size="37.5" textLength="101.68" lengthAdjust="spacingAndGlyphs">−100</text>
<text x="952.64" y="782.4" font-size="37.5" textLength="24.11" lengthAdjust="spacingAndGlyphs">0</text>
<text x="1336.1" y="782.4" font-size="37.5" textLength="70.9" lengthAdjust="spacingAndGlyphs">100</text>
<text x="1742.47" y="782.4" font-size="37.5" textLength="71.25" lengthAdjust="spacingAndGlyphs">200</text>
<text x="83.3" y="146.5" font-size="37.5" textLength="82.27" lengthAdjust="spacingAndGlyphs">0.02</text>
<text x="83.31" y="378.6" font-size="37.5" textLength="81.99" lengthAdjust="spacingAndGlyphs">0.00</text>
<text x="75.28" y="443.5" font-size="37.5" textLength="89.89" lengthAdjust="spacingAndGlyphs">−3.5</text>
<text x="75.26" y="580.7" font-size="37.5" textLength="90.18" lengthAdjust="spacingAndGlyphs">−2.0</text>
<text x="75.28" y="716.7" font-size="37.5" textLength="89.89" lengthAdjust="spacingAndGlyphs">−0.5</text>
<text x="733.3" y="844.4" font-size="41.7" textLength="767.88" lengthAdjust="spacingAndGlyphs">Time from BJD=2459203.11297 [min]</text>
<text transform="translate(41.8 395) rotate(-90)" font-size="41.7" textLength="303.72" lengthAdjust="spacingAndGlyphs">Detrended flux</text>
<text transform="translate(42.1 660.09) rotate(-90)" font-size="41.7" textLength="163.19" lengthAdjust="spacingAndGlyphs">E.W. [Å]</text>
<rect x="190.7" y="87.4" width="73.7" height="58.2" rx="9.5" ry="9.5" fill="#fff" stroke="#000" stroke-width="2.25"/>
<text x="202.04" y="127" font-size="36.6" textLength="51.22" lengthAdjust="spacingAndGlyphs">(a)</text>
<rect x="190.7" y="425.1" width="74.6" height="58.2" rx="9.5" ry="9.5" fill="#fff" stroke="#000" stroke-width="2.25"/>
<text x="202.14" y="463.8" font-size="36.6" textLength="51.72" lengthAdjust="spacingAndGlyphs">(b)</text>
<rect x="840.9" y="6.4" width="178.8" height="57.8" rx="10.5" ry="10.5" fill="#fff" stroke="#FF8C00" stroke-width="3.4"/>
<text x="851.54" y="45.1" font-size="36.6" textLength="157.42" lengthAdjust="spacingAndGlyphs">Pre-flare</text>
<rect x="1752.6" y="90.6" width="294.4" height="55.6" rx="5.5" ry="5.5" fill="#fff" fill-opacity="0.8" stroke="#ccc" stroke-opacity="0.8" stroke-width="1.6"/>
<line x1="1763" y1="115.9" x2="1830.9" y2="115.9" stroke="#000" stroke-width="4.1"/>
<rect x="1790.9" y="109.8" width="12.2" height="12.2" fill="#fff" stroke="#000" stroke-width="2.35"/>
<text x="1853.55" y="126.9" font-size="31.6" textLength="181.07" lengthAdjust="spacingAndGlyphs">White Light</text>
<rect x="1889.6" y="427.5" width="157.7" height="56.2" rx="5.5" ry="5.5" fill="#fff" fill-opacity="0.8" stroke="#ccc" stroke-opacity="0.8" stroke-width="1.6"/>
<line x1="1900.1" y1="452.9" x2="1967.2" y2="452.9" stroke="#DC143C" stroke-width="4.1"/>
<path d="M1928 446.9h12l-6 12z" fill="#fff" stroke="#DC143C" stroke-width="2.7"/>
<text x="1990.94" y="464.6" font-size="31.3" textLength="44.59" lengthAdjust="spacingAndGlyphs">Hα</text>
</svg></body></html>
